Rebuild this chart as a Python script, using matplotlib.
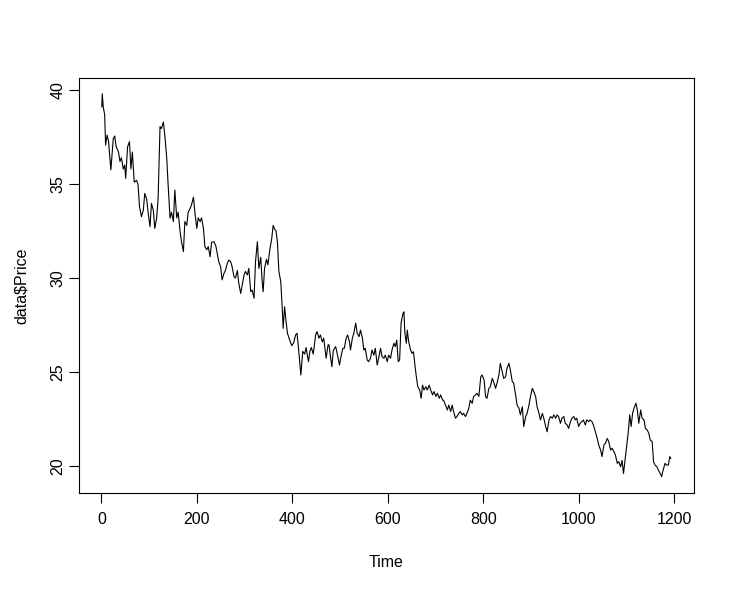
import numpy as np
import matplotlib
matplotlib.use("Agg")
import matplotlib.pyplot as plt

# time index and price at its turning points
t = [1, 2, 4, 6, 7, 9, 12, 15, 20, 25, 28, 31, 36, 39, 42, 46, 49, 51, 55, 59,
     62, 65, 69, 74, 77, 80, 84, 88, 91, 95, 98, 102, 105, 109, 112, 116, 119,
     123, 126, 130, 133, 137, 140, 144, 147, 151, 154, 158, 161, 165, 168, 172,
     175, 179, 182, 186, 189, 193, 196, 200, 203, 207, 210, 214, 217, 221, 224,
     228, 231, 236, 240, 243, 246, 250, 253, 257, 260, 264, 267, 271, 274, 278,
     281, 285, 288, 292, 295, 299, 302, 306, 309, 313, 316, 320, 323, 327, 330,
     334, 337, 339, 342, 346, 349, 353, 357, 360, 363, 366, 369, 372, 376, 379,
     381, 384, 387, 390, 392, 396, 399, 403, 407, 410, 413, 418, 422, 426, 429,
     434, 437, 440, 444, 449, 452, 456, 459, 463, 466, 471, 475, 477, 480, 483,
     486, 491, 494, 499, 502, 506, 509, 513, 516, 520, 522, 526, 529, 533, 536,
     540, 543, 547, 550, 553, 557, 560, 564, 567, 571, 574, 578, 581, 585, 588,
     592, 595, 599, 602, 606, 609, 613, 616, 619, 622, 625, 628, 632, 634, 636,
     639, 641, 644, 648, 651, 654, 657, 660, 663, 667, 670, 673, 676, 680, 683,
     687, 690, 694, 697, 701, 704, 708, 711, 715, 717, 721, 725, 728, 732, 735,
     738, 742, 745, 749, 752, 756, 759, 763, 766, 770, 773, 777, 780, 784, 787,
     791, 795, 798, 802, 805, 808, 812, 815, 819, 822, 826, 829, 833, 836, 840,
     843, 847, 850, 854, 857, 861, 864, 868, 871, 875, 878, 882, 885, 889, 892,
     896, 899, 903, 906, 910, 913, 917, 920, 924, 927, 931, 934, 938, 941, 945,
     948, 952, 955, 958, 962, 965, 969, 972, 976, 979, 983, 986, 990, 993, 996,
     1000, 1003, 1007, 1010, 1014, 1017, 1021, 1024, 1028, 1031, 1035, 1039,
     1042, 1046, 1049, 1053, 1056, 1060, 1063, 1067, 1070, 1074, 1077, 1081,
     1084, 1088, 1091, 1094, 1098, 1101, 1104, 1107, 1110, 1113, 1116, 1120,
     1123, 1126, 1130, 1133, 1137, 1140, 1144, 1147, 1150, 1154, 1157, 1160,
     1164, 1167, 1171, 1174, 1177, 1181, 1184, 1188, 1191, 1193]
price = [39.1, 39.8, 39.1, 38.85, 38.7, 37.07, 37.6, 37.3, 35.75, 37.4, 37.55,
         37.0, 36.7, 36.2, 36.4, 35.8, 36.0, 35.3, 36.98, 37.25, 35.8, 36.7,
         35.1, 35.2, 34.95, 33.8, 33.26, 33.6, 34.5, 34.2, 33.5, 32.73, 33.97,
         33.6, 32.64, 33.2, 34.24, 38.05, 37.95, 38.3, 37.6, 36.4, 34.95, 33.18,
         33.5, 33.0, 34.68, 33.2, 33.5, 32.46, 31.93, 31.4, 33.0, 32.8, 33.5,
         33.7, 33.9, 34.3, 33.5, 32.64, 33.2, 33.0, 33.2, 32.64, 31.67, 31.5,
         31.67, 31.13, 31.9, 31.93, 31.7, 31.3, 30.87, 30.6, 29.9, 30.25, 30.4,
         30.78, 30.95, 30.87, 30.6, 30.07, 30.0, 30.4, 29.72, 29.18, 29.6, 30.16,
         30.35, 30.16, 30.51, 29.27, 29.36, 28.92, 30.87, 31.93, 30.51, 31.1,
         29.8, 29.27, 30.51, 31.0, 30.7, 31.5, 32.1, 32.8, 32.6, 32.5, 31.9,
         30.35, 29.8, 28.4, 27.32, 28.47, 27.7, 27.06, 26.9, 26.6, 26.4, 26.55,
         26.97, 27.06, 26.3, 24.84, 26.1, 25.95, 26.3, 25.55, 26.1, 26.3, 25.95,
         26.97, 27.15, 26.8, 26.97, 26.6, 26.8, 25.73, 26.44, 26.45, 25.82,
         25.28, 26.15, 26.35, 26.0, 25.37, 25.8, 26.26, 26.26, 26.8, 26.97, 26.6,
         26.17, 26.8, 27.06, 27.6, 27.06, 26.88, 27.23, 26.8, 26.17, 26.26,
         25.64, 25.55, 25.73, 26.17, 25.9, 26.26, 25.37, 25.73, 26.26, 25.82,
         25.73, 25.9, 25.55, 25.9, 25.73, 26.17, 26.53, 26.35, 26.7, 25.55,
         25.64, 27.6, 28.12, 28.2, 27.06, 26.53, 27.23, 26.6, 26.17, 25.99,
         26.08, 25.37, 24.75, 24.22, 24.04, 23.6, 24.3, 24.04, 24.22, 24.04,
         24.3, 24.04, 23.78, 23.96, 23.7, 23.87, 23.6, 23.78, 23.5, 23.5, 23.24,
         22.98, 23.24, 22.9, 23.24, 22.9, 22.54, 22.63, 22.8, 22.9, 22.72, 22.8,
         22.63, 22.8, 23.07, 23.5, 23.33, 23.7, 23.78, 23.87, 23.7, 24.75, 24.84,
         24.57, 23.69, 23.6, 24.13, 24.22, 24.66, 24.48, 24.13, 24.4, 24.84,
         25.46, 25.0, 24.66, 24.75, 25.2, 25.46, 25.1, 24.49, 24.4, 23.78, 23.24,
         23.07, 22.72, 23.15, 22.1, 22.63, 22.8, 23.24, 23.69, 24.13, 23.96,
         23.69, 23.15, 22.8, 22.45, 22.8, 22.54, 22.1, 21.82, 22.45, 22.63, 22.54,
         22.72, 22.54, 22.72, 22.63, 22.27, 22.54, 22.63, 22.27, 22.18, 22.0,
         22.36, 22.54, 22.63, 22.45, 22.54, 22.1, 22.27, 22.36, 22.45, 22.18,
         22.45, 22.36, 22.45, 22.36, 22.18, 21.83, 21.47, 21.12, 20.85, 20.5,
         21.12, 21.2, 21.47, 21.3, 20.85, 20.94, 20.76, 20.59, 20.14, 20.23,
         19.96, 20.3, 19.6, 20.5, 21.2, 21.8, 22.72, 22.1, 22.8, 23.07, 23.34,
         22.98, 22.27, 22.98, 22.54, 22.45, 22.0, 21.9, 21.74, 21.38, 21.3,
         20.23, 20.05, 19.96, 19.78, 19.6, 19.43, 19.78, 20.14, 20.05, 20.05,
         20.5, 20.4]

xticks = [0, 200, 400, 600, 800, 1000, 1200]
yticks = [20, 25, 30, 35, 40]

plt.rcParams["font.family"] = ["Liberation Sans", "DejaVu Sans"]
FS = 11.5

fig = plt.figure(figsize=(7.33, 5.92), dpi=100)
ax = fig.add_axes([0.1078, 0.1672, 0.8390, 0.7010])
ax.plot(t, price, color="black", lw=0.8)

# R-style 4% padding around the data range
xr = 1194 - 1
ax.set_xlim(1 - 0.04 * xr, 1194 + 0.04 * xr)
yr = 39.82 - 19.38
ax.set_ylim(19.38 - 0.04 * yr, 39.82 + 0.04 * yr)

ax.set_xticks(xticks)
ax.set_yticks(yticks)
ax.tick_params(direction="out", length=7, width=0.8, labelsize=FS)
ax.tick_params(axis="x", pad=7)
ax.tick_params(axis="y", pad=3)
for lab in ax.get_yticklabels():
    lab.set_rotation(90)
    lab.set_va("center")
for s in ax.spines.values():
    s.set_linewidth(0.8)

ax.set_xlabel("Time", fontsize=FS, labelpad=20)
ax.set_ylabel("data\\$Price", fontsize=FS, labelpad=15)

fig.savefig("out.png", dpi=100)
